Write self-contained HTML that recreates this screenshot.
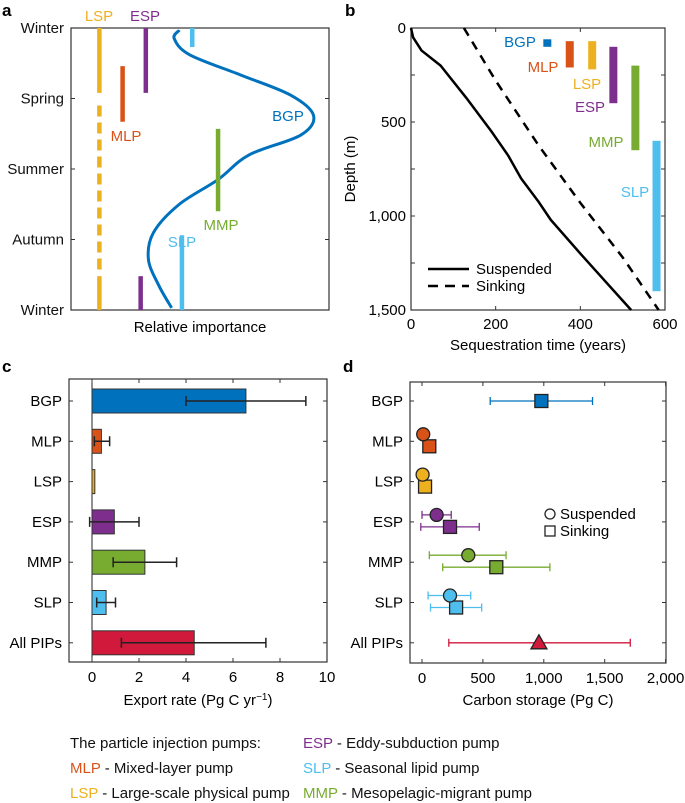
<!DOCTYPE html>
<html><head><meta charset="utf-8"><style>
body{margin:0;background:#fff;}
svg{display:block;font-family:"Liberation Sans",Arial,sans-serif;}
</style></head><body>
<svg id="fig" width="685" height="803" viewBox="0 0 685 803"></svg>
<script>
const NS="http://www.w3.org/2000/svg";
const svg=document.getElementById('fig');
const FS=15;
function el(tag,attrs,parent,text){const e=document.createElementNS(NS,tag);for(const k in attrs)e.setAttribute(k,attrs[k]);if(text!==undefined)e.textContent=text;(parent||svg).appendChild(e);return e;}
const COL={BGP:'#0072bd',MLP:'#d95319',LSP:'#edb120',ESP:'#7e2f8e',MMP:'#77ac30',SLP:'#4dbeee',ALL:'#d0193b'};

// ---------- Panel a data ----------
const seasonLabels=['Winter','Spring','Summer','Autumn','Winter'];
const aPumpNames=['LSP','LSP','ESP','ESP','MLP','SLP','SLP','MMP'];
const aPumpX=[0.11,0.11,0.29,0.27,0.2,0.47,0.43,0.57];
const aPumpStart=[0,3.52,0,3.52,0.54,0,2.94,1.43];
const aPumpEnd=[0.92,4,0.92,4,1.33,0.27,4,2.6];
const aLSPDashStart=[1.1];const aLSPDashEnd=[3.45];
const bgpT=[0.03,0.15,0.38,0.67,0.95,1.24,1.52,1.8,2.15,2.5,2.9,3.28,3.65,3.97];
const bgpV=[0.42,0.4,0.46,0.66,0.85,0.94,0.89,0.69,0.57,0.42,0.32,0.3,0.34,0.39];

// ---------- Panel b data ----------
const suspT=[0,5,25,70,130,190,230,260,300,330,400,460,520];
const suspD=[0,50,120,200,370,550,680,800,920,1020,1200,1350,1500];
const sinkT=[125,200,300,400,500,585];
const sinkD=[0,280,620,930,1220,1500];
const bPumps=['BGP','MLP','LSP','ESP','MMP','SLP'];
const bPumpT=[322,375,428,478,530,580];
const bPumpTop=[60,70,70,100,200,600];
const bPumpBot=[100,210,220,400,650,1400];
const bTicksX=[0,200,400,600];const bTicksY=[0,500,1000,1500];
const bTickYLabels=['0','500','1,000','1,500'];

// ---------- Panel c data ----------
const cats=['BGP','MLP','LSP','ESP','MMP','SLP','All PIPs'];
const catKeys=['BGP','MLP','LSP','ESP','MMP','SLP','ALL'];
const exportVal=[6.55,0.4,0.12,0.95,2.25,0.6,4.35];
const exportLo=[4,0.1,null,-0.1,0.9,0.2,1.25];
const exportHi=[9.1,0.75,null,2,3.6,1.0,7.4];
const cTicks=[0,2,4,6,8,10];

// ---------- Panel d data ----------
const suspStore=[null,10,5,120,380,230,null];
const suspLo=[null,null,null,0,60,50,null];
const suspHi=[null,null,null,240,690,400,null];
const sinkStore=[980,60,25,230,610,280,null];
const sinkLo=[560,null,null,-10,170,70,null];
const sinkHi=[1400,null,null,470,1050,490,null];
const allStore=[960];const allLo=[220];const allHi=[1710];
const dTicks=[0,500,1000,1500,2000];const dTickLabels=['0','500','1,000','1,500','2,000'];

// ======== Panel a ========
(function(){
const L=71,R=329,T=28,B=310;
const ax=v=>L+v*(R-L);const ay=s=>T+s*(B-T)/4;
const g=el('g',{}, svg);
const lab=el('text',{x:2,y:16,'font-size':17,'font-weight':'bold'},g,'a');
const box=el('rect',{x:L,y:T,width:R-L,height:B-T,fill:'none',stroke:'#333','stroke-width':1.2},g);
seasonLabels.forEach((s,i)=>{const y=ay(i);
 el('line',{x1:L,x2:L+4,y1:y,y2:y,stroke:'#333'},g);el('line',{x1:R,x2:R-4,y1:y,y2:y,stroke:'#333'},g);
 const t=el('text',{x:L-7,y:y+5,'font-size':FS,'text-anchor':'end',fill:'#111'},g,s);});
const xt=el('text',{x:(L+R)/2,y:332,'font-size':FS,'text-anchor':'middle'},g,'Relative importance');
const pts=bgpT.map((t,i)=>[ax(bgpV[i]),ay(t)]);
let d='M'+pts[0][0]+','+pts[0][1];
for(let i=0;i<pts.length-1;i++){const p0=pts[Math.max(0,i-1)],p1=pts[i],p2=pts[i+1],p3=pts[Math.min(pts.length-1,i+2)];
 d+=` C${p1[0]+(p2[0]-p0[0])/6},${p1[1]+(p2[1]-p0[1])/6} ${p2[0]-(p3[0]-p1[0])/6},${p2[1]-(p3[1]-p1[1])/6} ${p2[0]},${p2[1]}`;}
const c=el('path',{d:d,fill:'none',stroke:COL.BGP,'stroke-width':3},g);
aPumpNames.forEach((n,i)=>{const b=el('line',{x1:ax(aPumpX[i]),x2:ax(aPumpX[i]),y1:ay(aPumpStart[i]),y2:ay(aPumpEnd[i]),stroke:COL[n],'stroke-width':4.5},g);});
const dl=el('line',{x1:ax(0.11),x2:ax(0.11),y1:ay(aLSPDashStart[0]),y2:ay(aLSPDashEnd[0]),stroke:COL.LSP,'stroke-width':4.5,'stroke-dasharray':'11,6'},g);
[['LSP',99,21],['ESP',145,21],['MLP',126,141],['BGP',288,121],['MMP',221,230],['SLP',182,247]].forEach(([n,x,y])=>{const t=el('text',{x:x,y:y,'font-size':FS,'text-anchor':'middle',fill:COL[n]},g,n);});
})();

// ======== Panel b ========
(function(){
const L=411,R=665,T=28,B=310;
const sx=v=>L+v/600*(R-L);const sy=v=>T+v/1500*(B-T);
const g=el('g',{},svg);
const lab=el('text',{x:345,y:16,'font-size':17,'font-weight':'bold'},g,'b');
const box=el('rect',{x:L,y:T,width:R-L,height:B-T,fill:'none',stroke:'#333','stroke-width':1.2},g);
bTicksX.forEach(v=>{el('line',{x1:sx(v),x2:sx(v),y1:B,y2:B-4,stroke:'#333'},g);el('line',{x1:sx(v),x2:sx(v),y1:T,y2:T+4,stroke:'#333'},g);
 const t=el('text',{x:sx(v),y:B+19,'font-size':FS,'text-anchor':'middle'},g,String(v));});
[0,250,500,750,1000,1250,1500].forEach(v=>{el('line',{x1:L,x2:L+4,y1:sy(v),y2:sy(v),stroke:'#333'},g);el('line',{x1:R,x2:R-4,y1:sy(v),y2:sy(v),stroke:'#333'},g);});
bTicksY.forEach((v,i)=>{const t=el('text',{x:L-5,y:sy(v)+5,'font-size':FS,'text-anchor':'end'},g,bTickYLabels[i]);});
const yt=el('text',{x:0,y:0,'font-size':FS,'text-anchor':'middle',transform:`translate(355,${(T+B)/2}) rotate(-90)`},g,'Depth (m)');
const xt=el('text',{x:(L+R)/2,y:350,'font-size':FS,'text-anchor':'middle'},g,'Sequestration time (years)');
const p1=el('polyline',{points:suspT.map((t,i)=>sx(t)+','+sy(suspD[i])).join(' '),fill:'none',stroke:'#000','stroke-width':2.5,'stroke-linejoin':'round'},g);
const p2=el('polyline',{points:sinkT.map((t,i)=>sx(t)+','+sy(sinkD[i])).join(' '),fill:'none',stroke:'#000','stroke-width':2.5,'stroke-dasharray':'9,7'},g);
bPumps.forEach((n,i)=>{const r=el('rect',{x:sx(bPumpT[i])-4,y:sy(bPumpTop[i]),width:8,height:sy(bPumpBot[i])-sy(bPumpTop[i]),fill:COL[n]},g);});
[['BGP',520,47],['MLP',543,72],['LSP',587,89],['ESP',590,112],['MMP',606,147],['SLP',635,197]].forEach(([n,x,y])=>{const t=el('text',{x:x,y:y,'font-size':FS,'text-anchor':'middle',fill:COL[n]},g,n);});
const lg=el('g',{},g);
el('line',{x1:428,x2:469,y1:269,y2:269,stroke:'#000','stroke-width':2.5},lg);
el('line',{x1:428,x2:469,y1:286,y2:286,stroke:'#000','stroke-width':2.5,'stroke-dasharray':'10,7'},lg);
el('text',{x:476,y:274,'font-size':FS},lg,'Suspended');el('text',{x:476,y:291,'font-size':FS},lg,'Sinking');
})();

// ======== Panel c ========
(function(){
const L=69,R=327,T=379,B=662;
const sx=v=>92+v*23.5;const cy=i=>401+i*40.3;
const g=el('g',{},svg);
const lab=el('text',{x:2,y:372,'font-size':17,'font-weight':'bold'},g,'c');
el('line',{x1:sx(0),x2:sx(0),y1:T,y2:B,stroke:'#222','stroke-width':1},g);
cats.forEach((c,i)=>{const y=cy(i);
 el('line',{x1:L,x2:L+4,y1:y,y2:y,stroke:'#333'},g);el('line',{x1:R,x2:R-4,y1:y,y2:y,stroke:'#333'},g);
 const t=el('text',{x:L-7,y:y+5,'font-size':FS,'text-anchor':'end'},g,c);
 const b=el('rect',{x:sx(0),y:y-12,width:sx(exportVal[i])-sx(0),height:24,fill:COL[catKeys[i]],stroke:'#333','stroke-width':1},g);
 if(exportLo[i]!==null){const e=el('path',{d:`M${sx(exportLo[i])},${y}H${sx(exportHi[i])}M${sx(exportLo[i])},${y-5}v10M${sx(exportHi[i])},${y-5}v10`,stroke:'#222','stroke-width':1.5,fill:'none'},g);}
});
const box=el('rect',{x:L,y:T,width:R-L,height:B-T,fill:'none',stroke:'#333','stroke-width':1.2},g);
cTicks.forEach(v=>{el('line',{x1:sx(v),x2:sx(v),y1:B,y2:B-4,stroke:'#333'},g);el('line',{x1:sx(v),x2:sx(v),y1:T,y2:T+4,stroke:'#333'},g);
 const t=el('text',{x:sx(v),y:B+20,'font-size':FS,'text-anchor':'middle'},g,String(v));});
const xt=el('text',{x:198,y:705,'font-size':FS,'text-anchor':'middle'},g);
xt.innerHTML='Export rate (Pg C yr<tspan dy="-5" font-size="10">−1</tspan><tspan dy="5">)</tspan>';
})();

// ======== Panel d ========
(function(){
const L=410,R=666,T=382,B=663;
const sx=v=>422+v*0.1218;const cy=i=>401+i*40.3;
const g=el('g',{},svg);
const lab=el('text',{x:343,y:372,'font-size':17,'font-weight':'bold'},g,'d');
const box=el('rect',{x:L,y:T,width:R-L,height:B-T,fill:'none',stroke:'#333','stroke-width':1.2},g);
function err(lo,hi,y,col){const e=el('path',{d:`M${sx(lo)},${y}H${sx(hi)}M${sx(lo)},${y-4}v8M${sx(hi)},${y-4}v8`,stroke:col,'stroke-width':1.3,fill:'none'},g);}
cats.forEach((c,i)=>{const y=cy(i);const col=COL[catKeys[i]];
 el('line',{x1:L,x2:L+4,y1:y,y2:y,stroke:'#333'},g);el('line',{x1:R,x2:R-4,y1:y,y2:y,stroke:'#333'},g);
 const t=el('text',{x:L-7,y:y+5,'font-size':FS,'text-anchor':'end'},g,c);
 const both=suspStore[i]!==null;
 const ys=both?y+5:y, yc=y-7;
 if(sinkStore[i]!==null){if(sinkLo[i]!==null)err(sinkLo[i],sinkHi[i],ys,col);
  const s=el('rect',{x:sx(sinkStore[i])-6.5,y:ys-6.5,width:13,height:13,fill:col,stroke:'#222','stroke-width':1.3},g);}
 if(both){if(suspLo[i]!==null)err(suspLo[i],suspHi[i],yc,col);
  const ci=el('circle',{cx:sx(suspStore[i]),cy:yc,r:6.5,fill:col,stroke:'#222','stroke-width':1.3},g);}
});
const ya=cy(6);err(allLo[0],allHi[0],ya,COL.ALL);
const tx=sx(allStore[0]);const tr=el('path',{d:`M${tx},${ya-8}L${tx+8},${ya+6}L${tx-8},${ya+6}Z`,fill:COL.ALL,stroke:'#222','stroke-width':1.3},g);
dTicks.forEach((v,i)=>{el('line',{x1:sx(v),x2:sx(v),y1:B,y2:B-4,stroke:'#333'},g);el('line',{x1:sx(v),x2:sx(v),y1:T,y2:T+4,stroke:'#333'},g);
 const t=el('text',{x:sx(v),y:B+20,'font-size':FS,'text-anchor':'middle'},g,dTickLabels[i]);});
const xt=el('text',{x:538,y:705,'font-size':FS,'text-anchor':'middle'},g,'Carbon storage (Pg C)');
const lg=el('g',{},g);
el('circle',{cx:550,cy:514,r:5,fill:'none',stroke:'#222','stroke-width':1.3},lg);
el('rect',{x:545,y:526,width:10,height:10,fill:'none',stroke:'#222','stroke-width':1.3},lg);
el('text',{x:560,y:519,'font-size':FS},lg,'Suspended');el('text',{x:560,y:536,'font-size':FS},lg,'Sinking');
})();

// ======== Bottom key ========
(function(){
const g=el('g',{'font-size':FS},svg);
const rows=[[70,748,null,'The particle injection pumps:'],[70,773,'MLP',' - Mixed-layer pump'],[70,798,'LSP',' - Large-scale physical pump'],
[303,748,'ESP',' - Eddy-subduction pump'],[303,773,'SLP',' - Seasonal lipid pump'],[303,798,'MMP',' - Mesopelagic-migrant pump']];
rows.forEach(([x,y,k,txt])=>{const t=el('text',{x:x,y:y},g);
 if(k){el('tspan',{fill:COL[k]},t,k);}
 el('tspan',{fill:'#111'},t,txt);});
})();
</script>
</body></html>
